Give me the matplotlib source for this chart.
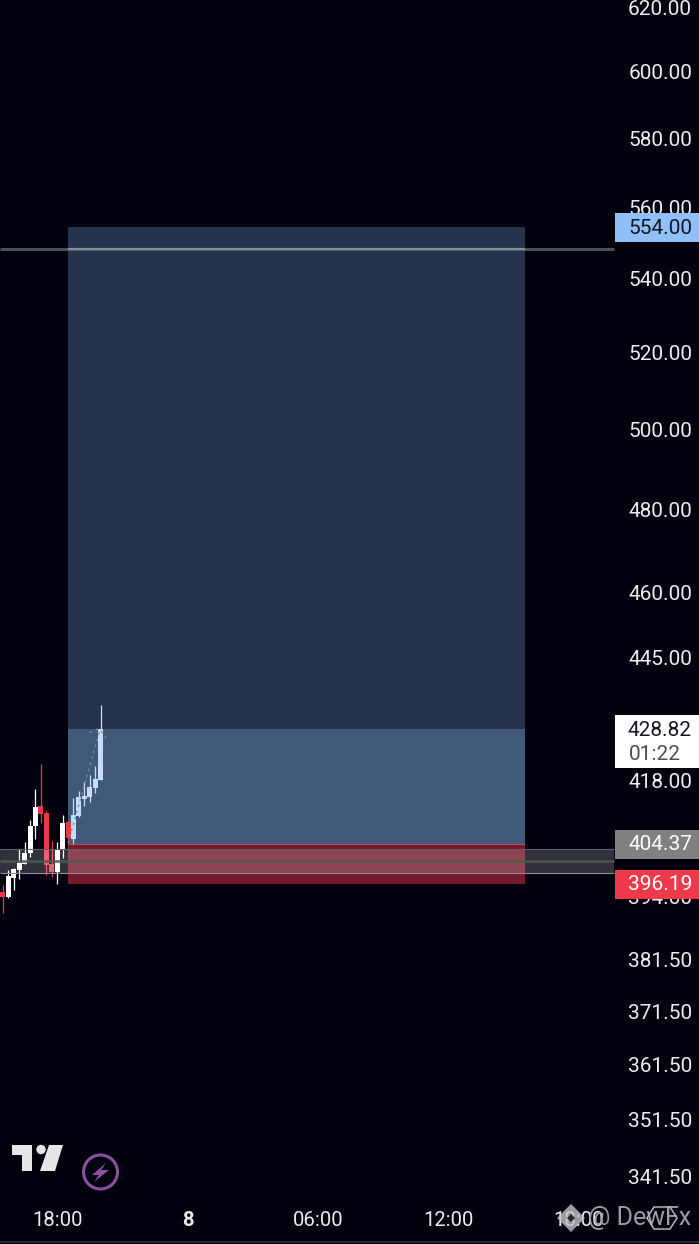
import matplotlib
matplotlib.use("Agg")
import matplotlib.pyplot as plt
from matplotlib.patches import Rectangle, Polygon, Circle
from matplotlib.transforms import Affine2D, blended_transform_factory

plt.rcParams['font.family'] = ['Roboto', 'DejaVu Sans']
plt.rcParams['lines.solid_capstyle'] = 'butt'

# --- data -----------------------------------------------------------------
hours  = [-2.5, -2.25, -2.0, -1.75, -1.5, -1.25, -1.0, -0.75, -0.5, -0.25, 0.0, 0.25,
          0.5, 0.75, 1.0, 1.25, 1.5, 1.75, 2.0]
opens  = [394.6, 393.6, 397.4, 399.0, 400.2, 402.5, 408.1, 412.2, 410.8, 400.2, 398.6, 403.1,
          408.9, 405.4, 410.1, 413.7, 414.1, 416.0, 417.7]
closes = [393.6, 397.8, 399.2, 400.4, 402.5, 408.1, 412.0, 410.6, 400.0, 398.6, 403.3, 408.7,
          405.6, 410.4, 414.1, 414.4, 416.3, 418.0, 428.82]
highs  = [396.0, 399.0, 399.5, 403.4, 404.7, 409.4, 415.8, 421.2, 411.4, 405.0, 404.7, 410.4,
          409.0, 413.9, 415.4, 417.3, 418.8, 420.7, 434.0]
lows   = [390.3, 393.4, 395.0, 397.2, 400.2, 401.7, 405.4, 408.7, 398.0, 397.6, 396.2, 401.5,
          401.7, 403.3, 409.9, 412.2, 413.1, 415.0, 417.7]
first_live_candle = 13

price_ticks = [620, 600, 580, 560, 540, 520, 500, 480, 460, 445, 418, 406, 394,
               381.5, 371.5, 361.5, 351.5, 341.5]
time_ticks = [0, 6, 12, 18, 24]
time_labels = ['18:00', '8', '06:00', '12:00', '18:00']

target_price, last_price, entry_price, stop_price = 554.00, 428.82, 404.37, 396.19
zone_start, zone_end = 0.5, 21.55
band_low, band_mid, band_high = 398.4, 400.9, 403.3
resistance = 547.8
proj_x = [0.5, 1.97, 2.3]
proj_y = [404.5, 428.5, 426.6]
proj2_x = [1.5, 1.88]
proj2_y = [428.0, 428.8]

# --- colours --------------------------------------------------------------
BG = '#02020f'
TXT = '#ececec'

fig = plt.figure(figsize=(6.99, 12.44), dpi=100, facecolor=BG)
ax = fig.add_axes([0, 0, 1, 1], facecolor=BG)
ax.set_yscale('log')
ax.set_ylim(329.7, 621.9)
ax.set_xlim(-2.634, 29.55)
for s in ax.spines.values():
    s.set_visible(False)

ax.set_yticks(price_ticks, [f'{v:.2f}' for v in price_ticks])
ax.minorticks_off()
ax.yaxis.tick_right()
ax.tick_params(axis='y', length=0, pad=-5, labelsize=15, labelcolor=TXT)
ax.set_xticks(time_ticks, time_labels)
ax.tick_params(axis='x', length=0, pad=-24, labelsize=14.6, labelcolor=TXT)
nudge = Affine2D().translate(0, -1.5)
for t in ax.yaxis.get_major_ticks():
    t.label2.set_ha('right')
    t.label2.set_transform(t.label2.get_transform() + nudge)
ax.get_xticklabels()[1].set_fontweight('bold')

# pixel transform for the tags and the overlaid icons
px = Affine2D().scale(1 / 699, -1 / 1244).translate(0, 1) + fig.transFigure
xpx_ydata = blended_transform_factory(px, ax.transData)

# position tool
ax.add_patch(Rectangle((zone_start, last_price), zone_end - zone_start, target_price - last_price,
                       fc='#25334d', ec='none', zorder=2))
ax.add_patch(Rectangle((zone_start, entry_price), zone_end - zone_start, last_price - entry_price,
                       fc='#40587a', ec='none', zorder=2))

# candles
for i, (x, o, c, h, l) in enumerate(zip(hours, opens, closes, highs, lows)):
    if i >= first_live_candle:
        col = '#c6dcfb'
    else:
        col = '#ffffff' if c >= o else '#e8394a'
    ax.vlines(x, l, h, color=col, lw=0.9, zorder=3)
    ax.bar(x, abs(c - o), bottom=min(o, c), width=0.23, color=col, linewidth=0, zorder=3)

ax.plot(proj_x, proj_y, color='#7f8c9c', lw=0.9, ls=(0, (2, 3)), zorder=3.2)
ax.plot(proj2_x, proj2_y, color='#7f8c9c', lw=0.9, ls=(0, (2, 3)), zorder=3.2)

# risk zone
ax.add_patch(Rectangle((zone_start, stop_price), zone_end - zone_start, entry_price - stop_price,
                       fc='#7f1c2f', ec='none', alpha=0.93, zorder=3.4))
ax.plot([zone_start, zone_end], [entry_price] * 2, color='#a8505f', lw=0.8, zorder=3.5)

# horizontal levels, up to the price scale
ax.add_patch(Rectangle((0, band_low), 614, band_high - band_low, transform=xpx_ydata,
                       fc='#ffffff', alpha=0.19, ec='none', zorder=3.6))
ax.plot([0, 614], [band_low] * 2, transform=xpx_ydata, color='#8b8d99', lw=0.8, zorder=3.7)
ax.plot([0, 614], [band_high] * 2, transform=xpx_ydata, color='#5d606c', lw=0.8, zorder=3.7)
ax.plot([0, 614], [band_mid] * 2, transform=xpx_ydata, color='#4a5a50', lw=2.0, alpha=0.85, zorder=3.7)
ax.plot([0, 614], [resistance] * 2, transform=xpx_ydata, color='#46534f', lw=2.2, zorder=3.7)
ax.plot([68, 525], [resistance] * 2, transform=xpx_ydata, color='#7c9399', lw=1.6, zorder=3.8)

# price tags
def tag(y0, y1, fc):
    ax.add_patch(Rectangle((615, y0), 84, y1 - y0, transform=px, fc=fc, ec='none', zorder=5))

tag(213, 242, '#90bff9')
tag(715, 768, '#ffffff')
tag(830, 859, '#808080')
tag(870, 899, '#ef3a4c')
lab = dict(transform=px, ha='right', va='center', fontsize=15, zorder=6)
ax.text(692, 228, '554.00', color='#131722', **lab)
ax.text(692, 730, '428.82', color='#131722', **lab)
ax.text(681, 754, '01:22', color='#4a4e5a', **lab)
ax.text(692, 845, '404.37', color='#ffffff', **lab)
ax.text(692, 885, '396.19', color='#ffffff', **lab)

# TradingView logo
logo = dict(transform=px, fc='#e6e6e6', ec='none', zorder=6)
ax.add_patch(Polygon([(12, 1145), (32, 1145), (32, 1171), (22, 1171), (22, 1155), (12, 1155)], **logo))
ax.add_patch(Circle((41, 1149.5), 4.7, **logo))
ax.add_patch(Polygon([(49, 1145), (63, 1145), (55, 1171), (40, 1171)], **logo))

# lightning badge
ax.add_patch(Circle((100.5, 1172), 17, transform=px, fc=BG, ec='#8e4fa3', lw=2.2, zorder=6))
ax.add_patch(Polygon([(106, 1163), (92, 1175), (99, 1175), (94, 1182), (109, 1170), (101, 1170)],
                     transform=px, fc='#8e4fa3', ec='none', zorder=6))

# watermark
ax.text(691, 1218, '@ DewFx', transform=px, ha='right', va='center', fontsize=18,
        color='#9c9ca0', zorder=6)
ax.add_patch(Polygon([(571, 1204), (585, 1218), (571, 1232), (557, 1218)], transform=px,
                     fc='#c4c4c8', ec='none', alpha=0.8, zorder=5))
ax.add_patch(Polygon([(571, 1214), (575, 1218), (571, 1222), (567, 1218)], transform=px,
                     fc=BG, ec='none', alpha=0.8, zorder=5))
ax.add_patch(Polygon([(654, 1207), (670, 1207), (677, 1218), (670, 1229), (654, 1229), (647, 1218)],
                     transform=px, fc='none', ec='#b4b4b8', lw=1.1, zorder=6))

# lower edge
ax.plot([0, 699], [1242, 1242], transform=px, color='#26262c', lw=1.4, zorder=6)

fig.savefig('out.png', dpi=100, facecolor=BG)
